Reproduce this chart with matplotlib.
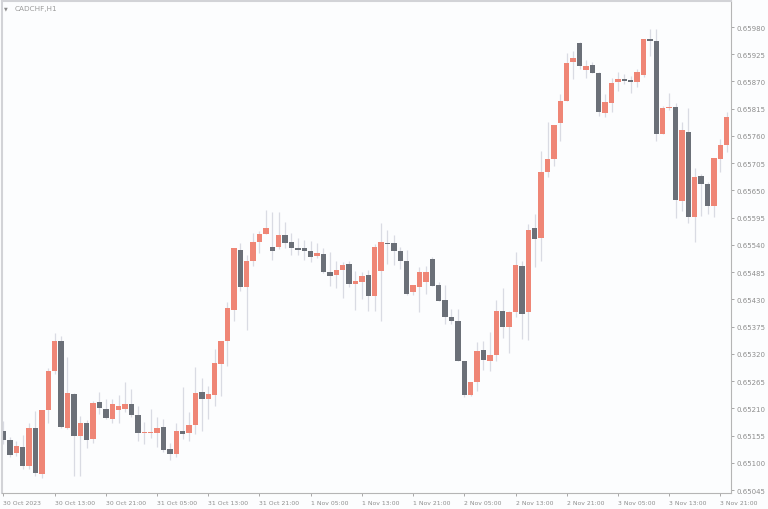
import matplotlib
matplotlib.use("Agg")
import matplotlib.pyplot as plt
import numpy as np

# ---- data (CADCHF, H1, 30 Oct 2023 05:00 .. 3 Nov 2023 22:00) ----
opens = [0.65165, 0.65147, 0.65120, 0.65132, 0.65094, 0.65171, 0.65077, 0.65207, 0.65285, 0.65346,
         0.65170, 0.65239, 0.65154, 0.65181, 0.65148, 0.65223, 0.65209, 0.65189, 0.65206, 0.65208,
         0.65219, 0.65197, 0.65160, 0.65160, 0.65160, 0.65172, 0.65128, 0.65118, 0.65165, 0.65160,
         0.65177, 0.65244, 0.65229, 0.65237, 0.65300, 0.65345, 0.65409, 0.65530, 0.65456, 0.65507,
         0.65545, 0.65563, 0.65536, 0.65536, 0.65561, 0.65545, 0.65533, 0.65533, 0.65528, 0.65517,
         0.65522, 0.65486, 0.65479, 0.65489, 0.65501, 0.65461, 0.65465, 0.65479, 0.65436, 0.65487,
         0.65544, 0.65544, 0.65528, 0.65507, 0.65444, 0.65456, 0.65466, 0.65512, 0.65459, 0.65429,
         0.65394, 0.65386, 0.65306, 0.65236, 0.65263, 0.65328, 0.65306, 0.65318, 0.65407, 0.65374,
         0.65404, 0.65497, 0.65404, 0.65574, 0.65553, 0.65687, 0.65713, 0.65786, 0.65831, 0.65909,
         0.65947, 0.65894, 0.65904, 0.65887, 0.65806, 0.65827, 0.65868, 0.65875, 0.65872, 0.65868,
         0.65884, 0.65956, 0.65952, 0.65764, 0.65816, 0.65818, 0.65629, 0.65769, 0.65596, 0.65680,
         0.65663, 0.65619, 0.65713, 0.65742]
highs = [0.65185, 0.65152, 0.65144, 0.65156, 0.65180, 0.65205, 0.65207, 0.65291, 0.65362, 0.65356,
         0.65314, 0.65241, 0.65195, 0.65187, 0.65225, 0.65244, 0.65229, 0.65229, 0.65237, 0.65263,
         0.65249, 0.65215, 0.65182, 0.65209, 0.65193, 0.65189, 0.65140, 0.65180, 0.65253, 0.65203,
         0.65294, 0.65271, 0.65256, 0.65330, 0.65345, 0.65425, 0.65533, 0.65543, 0.65520, 0.65564,
         0.65569, 0.65611, 0.65606, 0.65606, 0.65586, 0.65565, 0.65553, 0.65550, 0.65547, 0.65544,
         0.65533, 0.65525, 0.65508, 0.65505, 0.65508, 0.65488, 0.65486, 0.65490, 0.65542, 0.65584,
         0.65570, 0.65561, 0.65535, 0.65530, 0.65459, 0.65495, 0.65498, 0.65516, 0.65465, 0.65460,
         0.65411, 0.65411, 0.65306, 0.65263, 0.65343, 0.65347, 0.65364, 0.65429, 0.65454, 0.65407,
         0.65525, 0.65508, 0.65582, 0.65602, 0.65729, 0.65788, 0.65783, 0.65845, 0.65927, 0.65932,
         0.65949, 0.65913, 0.65909, 0.65889, 0.65845, 0.65877, 0.65889, 0.65885, 0.65882, 0.65895,
         0.65956, 0.65976, 0.65976, 0.65821, 0.65846, 0.65826, 0.65788, 0.65816, 0.65695, 0.65683,
         0.65668, 0.65715, 0.65754, 0.65809]
lows = [0.65138, 0.65112, 0.65114, 0.65088, 0.65088, 0.65073, 0.65069, 0.65180, 0.65279, 0.65170,
        0.65168, 0.65074, 0.65074, 0.65130, 0.65140, 0.65199, 0.65189, 0.65180, 0.65180, 0.65203,
        0.65192, 0.65144, 0.65138, 0.65150, 0.65132, 0.65122, 0.65106, 0.65112, 0.65148, 0.65144,
        0.65158, 0.65164, 0.65189, 0.65215, 0.65234, 0.65296, 0.65387, 0.65446, 0.65368, 0.65498,
        0.65524, 0.65563, 0.65510, 0.65532, 0.65533, 0.65520, 0.65520, 0.65510, 0.65506, 0.65513,
        0.65483, 0.65458, 0.65454, 0.65432, 0.65456, 0.65409, 0.65431, 0.65407, 0.65407, 0.65387,
        0.65502, 0.65500, 0.65491, 0.65439, 0.65439, 0.65404, 0.65441, 0.65458, 0.65426, 0.65380,
        0.65380, 0.65306, 0.65232, 0.65234, 0.65246, 0.65287, 0.65286, 0.65306, 0.65352, 0.65321,
        0.65395, 0.65350, 0.65348, 0.65495, 0.65508, 0.65677, 0.65700, 0.65749, 0.65831, 0.65875,
        0.65895, 0.65877, 0.65887, 0.65800, 0.65799, 0.65808, 0.65851, 0.65865, 0.65846, 0.65858,
        0.65880, 0.65922, 0.65750, 0.65764, 0.65812, 0.65594, 0.65609, 0.65584, 0.65545, 0.65599,
        0.65602, 0.65597, 0.65687, 0.65727]
closes = [0.65146, 0.65116, 0.65134, 0.65094, 0.65170, 0.65080, 0.65207, 0.65285, 0.65345, 0.65172,
          0.65241, 0.65154, 0.65181, 0.65147, 0.65221, 0.65211, 0.65190, 0.65219, 0.65215, 0.65218,
          0.65197, 0.65160, 0.65163, 0.65162, 0.65170, 0.65126, 0.65118, 0.65164, 0.65158, 0.65176,
          0.65242, 0.65229, 0.65239, 0.65301, 0.65345, 0.65412, 0.65533, 0.65456, 0.65507, 0.65545,
          0.65562, 0.65574, 0.65527, 0.65561, 0.65544, 0.65534, 0.65530, 0.65527, 0.65516, 0.65524,
          0.65486, 0.65477, 0.65490, 0.65499, 0.65461, 0.65468, 0.65478, 0.65436, 0.65536, 0.65545,
          0.65542, 0.65527, 0.65507, 0.65441, 0.65459, 0.65485, 0.65485, 0.65458, 0.65427, 0.65395,
          0.65387, 0.65306, 0.65236, 0.65263, 0.65326, 0.65308, 0.65318, 0.65406, 0.65374, 0.65405,
          0.65499, 0.65401, 0.65570, 0.65552, 0.65687, 0.65713, 0.65783, 0.65830, 0.65907, 0.65917,
          0.65902, 0.65902, 0.65887, 0.65808, 0.65828, 0.65867, 0.65876, 0.65870, 0.65868, 0.65889,
          0.65956, 0.65951, 0.65764, 0.65816, 0.65818, 0.65631, 0.65773, 0.65597, 0.65678, 0.65663,
          0.65619, 0.65715, 0.65742, 0.65798]

x_tick_labels = ["30 Oct 2023", "30 Oct 13:00", "30 Oct 21:00", "31 Oct 05:00", "31 Oct 13:00",
                 "31 Oct 21:00", "1 Nov 05:00", "1 Nov 13:00", "1 Nov 21:00", "2 Nov 05:00",
                 "2 Nov 13:00", "2 Nov 21:00", "3 Nov 05:00", "3 Nov 13:00", "3 Nov 21:00"]
bars_per_label = 8
y_ticks = [0.65045, 0.65100, 0.65155, 0.65210, 0.65265, 0.65320, 0.65375, 0.65430, 0.65485,
           0.65540, 0.65595, 0.65650, 0.65705, 0.65760, 0.65815, 0.65870, 0.65925, 0.65980]
title = "CADCHF,H1"

# ---- style ----
BG = "#fcfdfe"
BULL = "#ef8676"
BEAR = "#6b7078"
WICK = "#d9dbe3"
TXT = "#8d8d8d"

o = np.array(opens); h = np.array(highs); l = np.array(lows); c = np.array(closes)
x = np.arange(len(o))

fig = plt.figure(figsize=(7.68, 5.10), dpi=100, facecolor=BG)
ax = fig.add_axes([2 / 768, 16 / 510, 729 / 768, 492 / 510])
ax.set_facecolor(BG)

ax.vlines(x, l, h, color=WICK, linewidth=0.9, zorder=1)
bull = c >= o
bottoms = np.minimum(o, c)
heights = np.maximum(np.abs(c - o), 0.000012)
ax.bar(x, heights, bottom=bottoms, width=0.84,
       color=np.where(bull, BULL, BEAR), linewidth=0, zorder=2)

ax.set_xlim(-0.23, len(o) - 1 + 0.67)
ax.set_ylim(0.650391, 0.660325)

ax.set_xticks(np.arange(len(x_tick_labels)) * bars_per_label)
ax.set_xticklabels(x_tick_labels, ha="left", fontsize=4.4, color=TXT)
ax.set_yticks(y_ticks)
ax.set_yticklabels([f"{v:.5f}" for v in y_ticks], fontsize=5.0, color=TXT)
ax.yaxis.tick_right()
ax.tick_params(axis="x", length=2.5, width=0.7, color="#a8a8a8", pad=2.2)
ax.tick_params(axis="y", length=2.5, width=0.7, color="#a8a8a8", pad=1.2)

for side in ("left", "top"):
    ax.spines[side].set_color("#d2d3d7")
    ax.spines[side].set_linewidth(1.5)
for side in ("right", "bottom"):
    ax.spines[side].set_color("#b5b5b5")
    ax.spines[side].set_linewidth(0.8)

fig.text(6 / 768, 1 - 8.5 / 510, "\u25BC", fontsize=3.5, color="#8a8a8a", va="center", ha="center")
fig.text(15 / 768, 1 - 8.5 / 510, title, fontsize=5.2, color="#9c9c9c", va="center", ha="left")

fig.savefig("out.png", dpi=100, facecolor=BG)
